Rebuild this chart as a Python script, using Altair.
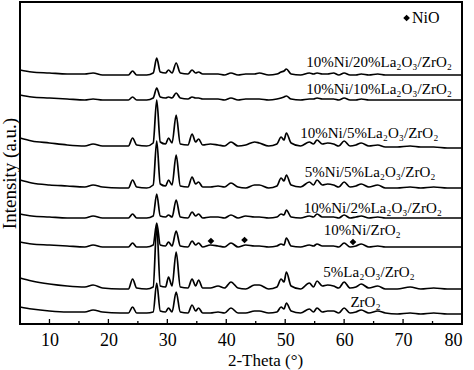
import altair as alt
import pandas as pd

# 2-Theta sampling positions (degrees)
two_theta = [5, 7, 10, 13, 16, 17.4, 19, 22, 23.4, 24.1, 24.8, 26.5, 27.6, 28.2, 28.8,
             29.7, 30.2, 30.8, 31.5, 32.2, 33.5, 34.2, 34.8, 35.3, 36.0, 37.3, 38.6, 39.7,
             40.8, 42.0, 43.3, 44.8, 45.6, 47.2, 48.6, 49.3, 49.8, 50.2, 51.0, 52.6, 54.1,
             54.8, 55.4, 56.3, 57.2, 58.2, 59.1, 60.0, 61.0, 62.0, 62.9, 64.2, 65.7, 67.0,
             69.0, 71.2, 73.0, 75.2, 77.5, 80.0]

# Intensities (a.u., stacked offsets included)
i_zro2 = [17, 15, 13, 12, 12, 14, 12, 11, 11, 17, 11, 11, 12, 41, 13,
          12, 16, 12, 32, 12, 11, 19, 13, 16, 11, 11, 12, 11,
          16, 11, 11, 13, 13, 11, 12, 17, 15, 21, 13, 11, 15,
          12, 16, 12, 13, 13, 11, 16, 11, 12, 14, 11, 13, 11,
          10, 11, 10, 11, 10, 10]
i_5la = [46, 43, 40, 38, 37, 39, 36, 35, 35, 45, 36, 35, 37, 98, 38,
         37, 47, 38, 72, 37, 36, 45, 38, 44, 36, 36, 38, 36,
         42, 36, 35, 39, 39, 35, 37, 45, 42, 52, 38, 35, 41,
         37, 43, 38, 39, 38, 36, 42, 36, 37, 40, 36, 38, 35,
         35, 37, 35, 36, 35, 35]
i_10ni = [82, 80, 79, 78, 77, 79, 77, 77, 77, 81, 77, 77, 79, 101, 79,
          78, 82, 78, 93, 78, 77, 83, 79, 81, 77, 79, 78, 77,
          81, 77, 79, 78, 78, 77, 78, 80, 79, 86, 78, 77, 79,
          78, 80, 78, 78, 78, 77, 81, 77, 78, 80, 77, 78, 77,
          77, 77, 77, 77, 77, 77]
i_10ni_2la = [110, 108, 107, 106, 106, 108, 106, 106, 106, 110, 106, 106, 108, 130, 108,
              107, 109, 107, 124, 107, 106, 112, 108, 110, 106, 107, 107, 106,
              109, 106, 108, 107, 107, 106, 107, 110, 109, 114, 107, 106, 108,
              107, 110, 107, 107, 107, 106, 109, 106, 107, 108, 106, 107, 106,
              106, 106, 106, 106, 106, 106]
i_5ni_5la = [144, 141, 139, 138, 137, 139, 137, 136, 136, 144, 137, 136, 139, 183, 140,
             138, 144, 139, 169, 138, 137, 147, 140, 142, 137, 137, 138, 137,
             141, 137, 136, 139, 139, 136, 138, 146, 143, 149, 139, 137, 142,
             139, 144, 139, 140, 139, 137, 142, 137, 138, 140, 137, 139, 136,
             136, 137, 136, 137, 136, 136]
i_10ni_5la = [186, 183, 181, 179, 178, 180, 178, 178, 178, 186, 179, 178, 181, 224, 182,
              180, 186, 181, 209, 180, 179, 190, 182, 185, 179, 180, 179, 178,
              182, 178, 179, 182, 181, 178, 180, 187, 184, 191, 181, 178, 182,
              180, 184, 180, 181, 180, 178, 183, 178, 179, 181, 178, 179, 177,
              177, 178, 177, 177, 176, 176]
i_10ni_10la = [229, 227, 226, 225, 224, 225, 224, 224, 224, 227, 224, 224, 226, 236, 227,
               226, 227, 226, 231, 226, 225, 227, 226, 226, 225, 225, 225, 224,
               226, 224, 225, 225, 225, 224, 225, 226, 227, 228, 225, 224, 225,
               225, 226, 225, 225, 225, 224, 226, 224, 224, 225, 224, 224, 224,
               224, 224, 224, 224, 224, 224]
i_10ni_20la = [254, 252, 251, 250, 250, 251, 249, 249, 249, 253, 249, 249, 251, 266, 252,
               251, 254, 251, 261, 251, 250, 254, 251, 252, 250, 250, 250, 249,
               251, 249, 250, 250, 251, 249, 250, 252, 253, 255, 250, 249, 251,
               250, 251, 250, 250, 251, 249, 251, 249, 249, 250, 249, 250, 249,
               249, 249, 249, 249, 249, 249]

sample_names = ["ZrO₂", "5%La₂O₃/ZrO₂", "10%Ni/ZrO₂", "10%Ni/2%La₂O₃/ZrO₂",
                "5%Ni/5%La₂O₃/ZrO₂", "10%Ni/5%La₂O₃/ZrO₂", "10%Ni/10%La₂O₃/ZrO₂",
                "10%Ni/20%La₂O₃/ZrO₂"]
series = [i_zro2, i_5la, i_10ni, i_10ni_2la, i_5ni_5la, i_10ni_5la, i_10ni_10la, i_10ni_20la]

# label anchor positions (right end in 2-Theta, intensity)
label_x = [66.2, 72.0, 69.6, 76.6, 75.5, 76.0, 78.3, 78.3]
label_y = [22, 52, 94, 116, 152, 191, 235, 262]

# NiO reflections marked with diamonds
nio_x = [37.4, 43.1, 61.5]
nio_y = [83, 84, 82]

major_ticks = [10, 20, 30, 40, 50, 60, 70, 80]
minor_ticks = [15, 25, 35, 45, 55, 65, 75]

rows = []
for name, vals in zip(sample_names, series):
    for i, (xv, yv) in enumerate(zip(two_theta, vals)):
        rows.append({"sample": name, "x": xv, "y": yv, "o": i})
df = pd.DataFrame(rows)

xscale = alt.Scale(domain=[5, 80], nice=False, zero=False)
yscale = alt.Scale(domain=[0, 322], nice=False, zero=False)
FONT = "Liberation Serif"

lines = alt.Chart(df).mark_line(color="black", strokeWidth=1.7, interpolate="monotone").encode(
    x=alt.X("x:Q", scale=xscale,
            axis=alt.Axis(values=major_ticks, tickSize=0, domain=False, grid=False,
                          title="2-Theta (°)", labelFontSize=18, titleFontSize=17,
                          labelPadding=7, titlePadding=3, labelColor="black",
                          titleColor="black", titleFontWeight="normal",
                          titleX=245, titleAlign="center",
                          labelFont=FONT, titleFont=FONT)),
    y=alt.Y("y:Q", scale=yscale,
            axis=alt.Axis(labels=False, ticks=False, domain=False, grid=False,
                          title="Intensity (a.u.)", titleFontSize=19, titlePadding=1,
                          titleY=171, titleAlign="center",
                          titleColor="black", titleFontWeight="normal", titleFont=FONT)),
    detail="sample:N",
    order="o:Q",
)

tick_df = pd.DataFrame(
    [{"x": t, "y0": 0, "y1": 5} for t in major_ticks] +
    [{"x": t, "y0": 0, "y1": 3} for t in minor_ticks]
)
ticks = alt.Chart(tick_df).mark_rule(color="black", strokeWidth=1.3).encode(
    x=alt.X("x:Q", scale=xscale), y=alt.Y("y0:Q", scale=yscale), y2="y1:Q")

lab_df = pd.DataFrame({"x": label_x, "y": label_y, "t": sample_names})
labels = alt.Chart(lab_df).mark_text(font=FONT, fontSize=15, color="black",
                                     align="right", baseline="middle").encode(
    x=alt.X("x:Q", scale=xscale), y=alt.Y("y:Q", scale=yscale), text="t:N")

nio_df = pd.DataFrame({"x": nio_x, "y": nio_y})
diamonds = alt.Chart(nio_df).mark_point(shape="diamond", filled=True, color="black",
                                        size=45, opacity=1).encode(
    x=alt.X("x:Q", scale=xscale), y=alt.Y("y:Q", scale=yscale))

leg_df = pd.DataFrame({"x": [70.6], "y": [306], "tx": [71.5], "t": ["NiO"]})
leg_d = alt.Chart(leg_df).mark_point(shape="diamond", filled=True, color="black",
                                     size=45, opacity=1).encode(
    x=alt.X("x:Q", scale=xscale), y=alt.Y("y:Q", scale=yscale))
leg_t = alt.Chart(leg_df).mark_text(font=FONT, fontSize=16, color="black", align="left",
                                    baseline="middle").encode(
    x=alt.X("tx:Q", scale=xscale), y=alt.Y("y:Q", scale=yscale), text="t:N")

chart = alt.layer(lines, ticks, labels, diamonds, leg_d, leg_t).properties(
    width=442, height=322,
    autosize=alt.AutoSizeParams(type="none"),
    padding={"left": 20, "top": 2, "right": 12, "bottom": 46},
    background="white",
).configure_view(stroke="black", strokeWidth=2)

chart.save("out.html", embed_options={"renderer": "svg", "actions": False})
